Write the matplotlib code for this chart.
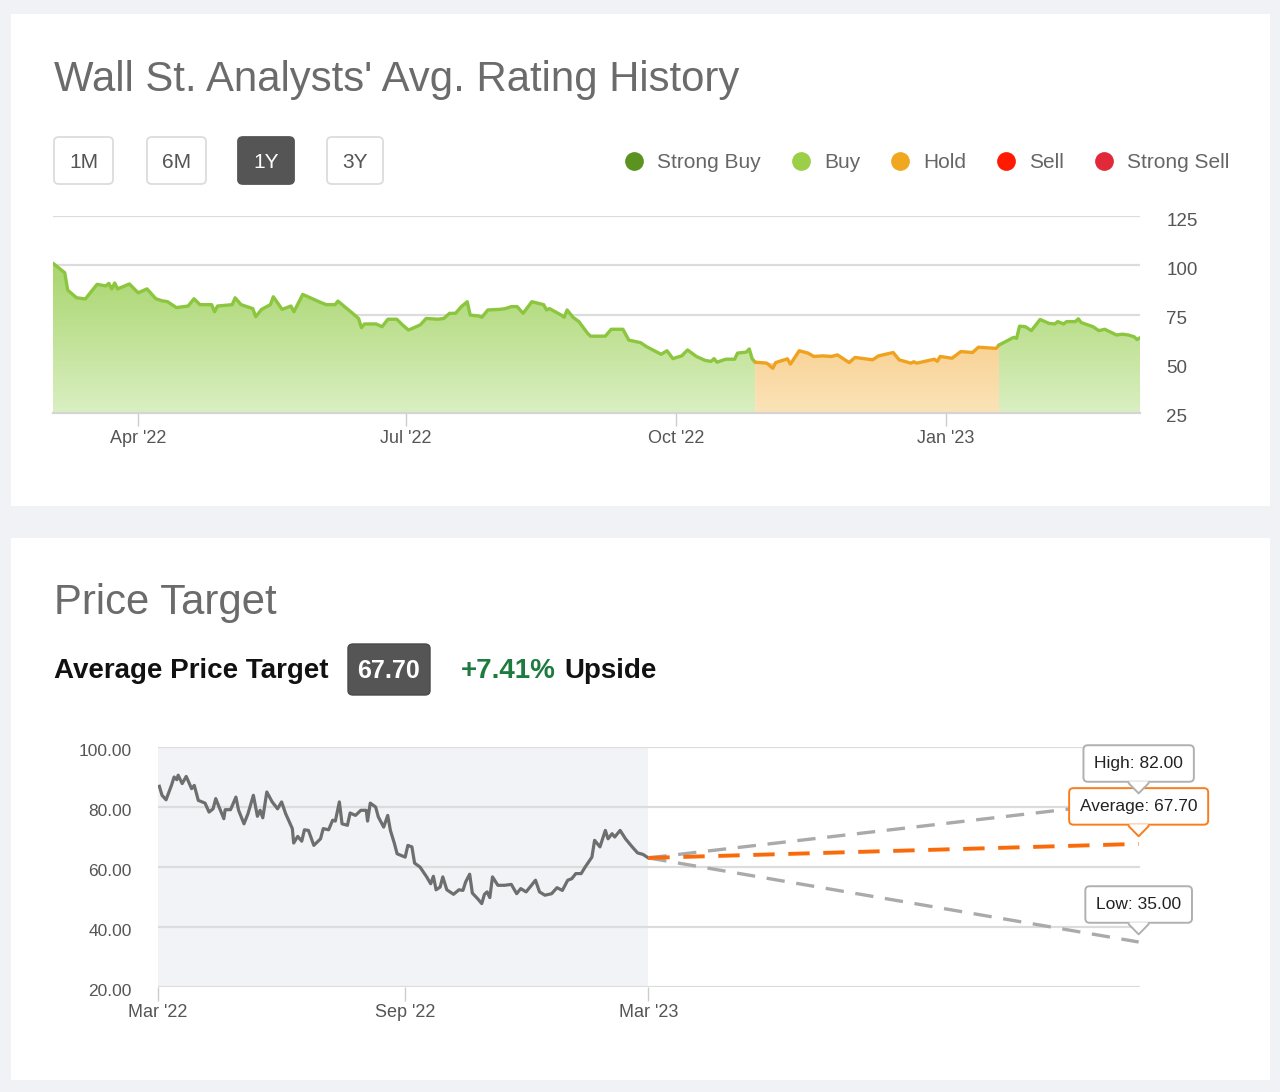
import numpy as np
import matplotlib
matplotlib.use("Agg")
import matplotlib.pyplot as plt
import matplotlib.dates as mdates
import matplotlib.transforms as mtransforms
from matplotlib.patches import FancyBboxPatch, Rectangle, Polygon
from matplotlib.lines import Line2D
from matplotlib.colors import LinearSegmentedColormap

plt.rcParams['font.family'] = ['Liberation Sans', 'DejaVu Sans']

# --- rating history (days after rating_start, avg rating score)
rating_start = np.datetime64('2022-03-03')
rating_days = [0, 4, 5, 8, 11, 15, 18, 19, 20, 21, 22, 26, 29, 32, 35, 37, 39, 42, 46, 48,
               50, 54, 55, 56, 61, 62, 64, 68, 69, 71, 74, 75, 78, 81, 82, 85, 91, 93, 96, 97,
               99, 102, 104, 105, 106, 110, 112, 114, 117, 119, 121, 125, 127, 131, 133, 135,
               137, 139, 141, 142, 145, 146, 148, 152, 154, 156, 158, 160, 163, 167, 168, 169,
               173, 174, 175, 177, 179, 182, 183, 188, 190, 194, 196, 200, 202, 207, 209, 211,
               214, 216, 219, 222, 224, 225, 226, 229, 232, 233, 236, 237, 238, 239, 243, 245,
               246, 250, 251, 254, 257, 259, 262, 265, 267, 271, 273, 279, 281, 286, 288, 292,
               293, 294, 300, 301, 302, 306, 309, 313, 315, 321, 322, 327, 328, 329, 331, 333,
               336, 339, 341, 342, 344, 345, 348, 349, 350, 354, 356, 358, 362, 364, 366, 368,
               369, 370]
rating_values = [101, 96.2, 87.4, 83.5, 82.9, 90.3, 89.5, 90.8, 88, 91, 88, 90.5, 86, 88, 83,
                 82, 81.5, 78.5, 79.3, 83, 80, 80, 76.4, 79.3, 80, 83.5, 80, 78, 73.9, 77.6, 80,
                 84, 77.6, 79.3, 76.4, 85.2, 81.2, 80, 80, 81.8, 79.3, 75.6, 73, 68.3, 70.2, 70.2,
                 68.8, 72.6, 72.6, 69.7, 67.1, 69.7, 73, 72.6, 73, 75.6, 75.6, 79, 81.5, 74.7,
                 74.2, 73.6, 77.3, 77.6, 78, 79, 79, 75.6, 81.5, 80, 77.3, 78, 74.7, 73.6, 77.3,
                 73.6, 71.4, 65.4, 64, 64, 67.5, 67.5, 62, 60.7, 58.7, 54.8, 56.6, 52.6, 54, 57,
                 53.7, 51.7, 51.2, 52.6, 50.8, 52.3, 52.3, 55.4, 55.9, 57.5, 52.5, 50.8, 50.3,
                 47.7, 50.6, 52.5, 49.8, 56.6, 55.4, 53.7, 54, 53.7, 54.5, 50.6, 53.2, 52, 54,
                 55.7, 52, 50.3, 51, 50.3, 52.3, 51.2, 53.7, 52.8, 56.2, 55.7, 58.4, 57.8, 59.5,
                 63.4, 62.9, 69.1, 68.8, 66.8, 72.5, 70.5, 70.2, 71.4, 70.2, 71.4, 71.4, 72.8,
                 70.9, 68.8, 66.8, 67.5, 64.6, 65, 64.6, 63.7, 62.3, 63.2]
hold_start = np.datetime64('2022-10-28')
hold_end = np.datetime64('2023-01-19')

range_buttons = ['1M', '6M', '1Y', '3Y']
active_button = '1Y'
legend_labels = ['Strong Buy', 'Buy', 'Hold', 'Sell', 'Strong Sell']
legend_colors = ['#5a9320', '#9bcf47', '#f0a820', '#ff1a00', '#e2293a']

# --- price history (days after price_start, close)
price_start = np.datetime64('2022-03-01')
price_days = [1, 3, 6, 10, 12, 14, 15, 18, 21, 25, 27, 30, 35, 38, 41, 43, 46, 49, 50, 54, 58,
              60, 64, 67, 71, 74, 76, 78, 81, 85, 89, 92, 95, 100, 101, 104, 107, 109, 112, 116,
              121, 123, 127, 130, 132, 135, 137, 141, 143, 147, 151, 155, 156, 158, 162, 164,
              168, 171, 173, 176, 178, 184, 186, 189, 191, 195, 200, 203, 205, 207, 210, 212,
              215, 220, 224, 227, 229, 232, 234, 238, 241, 243, 245, 247, 249, 253, 258, 263,
              267, 270, 274, 278, 281, 284, 288, 293, 297, 301, 305, 308, 311, 315, 318, 323,
              325, 329, 333, 335, 338, 340, 344, 348, 353, 357, 361, 365]
price_values = [86.9, 83.9, 82.4, 87.2, 90, 89.1, 90.6, 87.8, 90.2, 86.1, 87.2, 82.2, 81.3,
                78.3, 79.4, 82.8, 79.4, 76.1, 79.1, 79.1, 83.3, 78.9, 74.4, 77.8, 83.9, 76.9,
                78.9, 76.4, 85, 81.7, 79.4, 81.7, 77.8, 72.8, 68, 70.2, 68.6, 72.4, 72.2, 67.2,
                69.4, 72.8, 72.4, 75.6, 75.3, 81.7, 74.4, 73.9, 78, 77.2, 78.9, 78.9, 75.3,
                81.3, 80, 76.7, 73.3, 77.2, 72.2, 67.8, 64.4, 63.3, 67.2, 66.7, 61.3, 60, 56.7,
                54.4, 56.9, 52.4, 53.3, 56.7, 52.4, 50.9, 52.4, 52.2, 55, 57.6, 51.3, 49.4,
                47.8, 50.9, 51.7, 49.8, 56.7, 53.9, 53.9, 54.2, 51.1, 52.8, 51.7, 53.9, 55.6,
                51.7, 50.6, 51.1, 53.1, 52.2, 55.6, 56.1, 57.8, 57.8, 60, 63.3, 68.9, 66.7,
                72.2, 69.4, 71.1, 70, 72.2, 69.4, 66.7, 64.7, 64.2, 63.03]
price_ticks = ['2022-03-01', '2022-09-01', '2023-03-01']
chart_end = np.datetime64('2024-03-01')
forecast_end = np.datetime64('2024-02-29')
target_high = 82.00
target_avg = 67.70
target_low = 35.00
upside = '+7.41%'

W, H = 1280, 1092
fig = plt.figure(figsize=(W / 100, H / 100), dpi=100, facecolor='#f1f2f6')


def fx(x):
    return x / W


def fy(y):
    return 1 - y / H


def to_num(start, days):
    return mdates.date2num(start + np.array(days, dtype='timedelta64[D]'))


def drop_labels(ax, px):
    # browser-style labels sit a few pixels below their grid line
    shift = mtransforms.ScaledTranslation(0, -px / 100, fig.dpi_scale_trans)
    for lab in ax.get_yticklabels():
        lab.set_transform(lab.get_transform() + shift)


# white cards
for top, bottom in [(14, 506), (538, 1080)]:
    fig.add_artist(Rectangle((fx(11), fy(bottom)), fx(1270) - fx(11), (bottom - top) / H,
                             transform=fig.transFigure, fc='white', ec='none', zorder=-5))

# ---------------- top card ----------------
fig.text(fx(54), fy(91), "Wall St. Analysts' Avg. Rating History", fontsize=30.2,
         color='#6b6b6b', va='baseline', ha='left')

btn_x = [54, 147, 238, 327]
btn_w = [59, 59, 56, 56]
for lab, bx, bw in zip(range_buttons, btn_x, btn_w):
    on = lab == active_button
    fig.add_artist(FancyBboxPatch((fx(bx), fy(184)), bw / W, 47 / H,
                                  boxstyle='round,pad=0,rounding_size=0.004',
                                  transform=fig.transFigure, lw=1.3,
                                  fc='#555555' if on else 'white',
                                  ec='#555555' if on else '#dcdcdc'))
    fig.text(fx(bx + bw / 2), fy(162), lab, fontsize=15, ha='center', va='center',
             color='white' if on else '#555555')

leg_x = [634, 801, 900, 1006, 1104]
for lab, col, lx in zip(legend_labels, legend_colors, leg_x):
    fig.add_artist(Line2D([fx(lx)], [fy(161)], marker='o', ms=13.5, mfc=col, mec='none',
                          ls='none', transform=fig.transFigure))
    fig.text(fx(lx + 23), fy(162), lab, fontsize=15, ha='left', va='center', color='#666666')

ax1 = fig.add_axes([fx(53), fy(413), (1140 - 53) / W, (413 - 216) / H])
rd = to_num(rating_start, rating_days)
rv = np.array(rating_values, dtype=float)
hs = mdates.date2num(np.array([hold_start]))[0]
he = mdates.date2num(np.array([hold_end]))[0]

green_cmap = LinearSegmentedColormap.from_list('g', ['#daefc2', '#a8d56b'])
orange_cmap = LinearSegmentedColormap.from_list('o', ['#fbe3b8', '#f4bf6c'])
grad = np.linspace(0, 1, 256).reshape(-1, 1)
segments = [(rd <= hs, green_cmap, '#8cc63f'),
            ((rd >= hs) & (rd <= he), orange_cmap, '#f0a21e'),
            (rd >= he, green_cmap, '#8cc63f')]
for mask, cmap, lc in segments:
    xs, ys = rd[mask], rv[mask]
    verts = np.vstack([[xs[0], 25], np.column_stack([xs, ys]), [xs[-1], 25]])
    shape = Polygon(verts, closed=True, fc='none', ec='none')
    ax1.add_patch(shape)
    im = ax1.imshow(grad, cmap=cmap, origin='lower', aspect='auto',
                    extent=[xs[0], xs[-1], 25, 102], zorder=1, interpolation='bilinear')
    im.set_clip_path(shape)
    ax1.plot(xs, ys, color=lc, lw=2.4, zorder=3, solid_joinstyle='round',
             solid_capstyle='round')

ax1.set_xlim(rd[0], rd[-1])
ax1.set_ylim(25, 125)
ax1.set_yticks([25, 50, 75, 100, 125])
ax1.yaxis.tick_right()
ax1.set_axisbelow(True)
ax1.grid(axis='y', color='#dcdcdc', lw=1.6)
for s in ['top', 'left', 'right']:
    ax1.spines[s].set_visible(False)
ax1.spines['bottom'].set_color('#d4d4d4')
ax1.spines['bottom'].set_linewidth(1.6)
ax1.spines['bottom'].set_zorder(4)
ax1.xaxis.set_major_locator(mdates.MonthLocator(bymonth=[1, 4, 7, 10]))
ax1.xaxis.set_major_formatter(mdates.DateFormatter("%b '%y"))
ax1.tick_params(axis='y', length=0, pad=19, labelsize=13.5, labelcolor='#555555')
ax1.tick_params(axis='x', length=9, width=1, color='#cccccc', pad=3.5, labelsize=13,
                labelcolor='#555555')
ax1.patch.set_visible(False)
drop_labels(ax1, 3)

# ---------------- bottom card ----------------
fig.text(fx(54), fy(614), 'Price Target', fontsize=30.2, color='#6b6b6b',
         va='baseline', ha='left')
fig.text(fx(54), fy(678), 'Average Price Target', fontsize=20, fontweight='bold',
         color='#111111', va='baseline', ha='left')
fig.add_artist(FancyBboxPatch((fx(348), fy(695)), 82 / W, 51 / H,
                              boxstyle='round,pad=0,rounding_size=0.004',
                              transform=fig.transFigure, fc='#555555', ec='#4a4a4a', lw=1))
fig.text(fx(389), fy(678), f'{target_avg:.2f}', fontsize=18, fontweight='bold',
         color='white', va='baseline', ha='center')
t_up = fig.text(fx(461), fy(678), upside, fontsize=20, fontweight='bold',
                color='#1e7b3f', va='baseline', ha='left')
fig.canvas.draw()
bb = t_up.get_window_extent()
fig.text(bb.x1 / W + 8 / W, fy(678), 'Upside', fontsize=20, fontweight='bold',
         color='#111111', va='baseline', ha='left')

ax2 = fig.add_axes([fx(158), fy(987), (1140 - 158) / W, (987 - 747) / H])
pd_ = to_num(price_start, price_days)
pv = np.array(price_values, dtype=float)
x_start = mdates.date2num(np.array([price_start]))[0]
x_end = mdates.date2num(np.array([chart_end]))[0]
f_end = mdates.date2num(np.array([forecast_end]))[0]

ax2.axvspan(x_start, pd_[-1], color='#f2f3f7', zorder=0, lw=0)
ax2.plot(pd_, pv, color='#6e6e6e', lw=2.3, zorder=3, solid_joinstyle='round')
for tgt, col, lw, z in [(target_high, '#aaaaaa', 2.4, 3), (target_low, '#aaaaaa', 2.4, 3),
                        (target_avg, '#f96b0a', 2.8, 4)]:
    ax2.plot([pd_[-1], f_end], [pv[-1], tgt], color=col, lw=lw, zorder=z,
             dashes=(5.5, 3.5), solid_capstyle='butt')

ax2.set_xlim(x_start, x_end)
ax2.set_ylim(20, 100)
ax2.set_yticks([20, 40, 60, 80, 100])
ax2.yaxis.set_major_formatter(plt.FuncFormatter(lambda v, p: f'{v:.2f}'))
ax2.set_xticks(mdates.date2num(np.array(price_ticks, dtype='datetime64[D]')))
ax2.xaxis.set_major_formatter(mdates.DateFormatter("%b '%y"))
ax2.set_axisbelow(True)
ax2.grid(axis='y', color='#dcdcdc', lw=1.6, zorder=1)
for s in ['top', 'left', 'right', 'bottom']:
    ax2.spines[s].set_visible(False)
ax2.tick_params(axis='y', length=0, pad=19, labelsize=12.5, labelcolor='#555555')
ax2.tick_params(axis='x', length=10, width=1, color='#cccccc', pad=2, labelsize=13,
                labelcolor='#555555')
ax2.patch.set_visible(False)
drop_labels(ax2, 3)


def callout(ax, x, y, text, ec):
    ax.annotate(text, (x, y), xytext=(0, 27), textcoords='offset points', ha='center',
                va='center', fontsize=12.5, color='#222222', zorder=7, annotation_clip=False,
                bbox=dict(boxstyle='round,pad=0.62,rounding_size=0.25', fc='white',
                          ec=ec, lw=1.4))
    tr = mtransforms.Affine2D().scale(fig.dpi / 72) + \
        mtransforms.ScaledTranslation(x, y, ax.transData)
    ax.add_patch(Polygon([(-7, 14.2), (0, 5.5), (7, 14.2)], closed=True, fc='white',
                         ec='none', transform=tr, zorder=8, clip_on=False))
    ax.plot([-7, 0, 7], [12.6, 5.5, 12.6], color=ec, lw=1.4, transform=tr, zorder=9,
            clip_on=False)


callout(ax2, f_end, target_high, f'High: {target_high:.2f}', '#b0b0b0')
callout(ax2, f_end, target_avg, f'Average: {target_avg:.2f}', '#f97d1c')
callout(ax2, f_end, target_low, f'Low: {target_low:.2f}', '#b0b0b0')

fig.savefig('out.png', dpi=100, facecolor=fig.get_facecolor())
